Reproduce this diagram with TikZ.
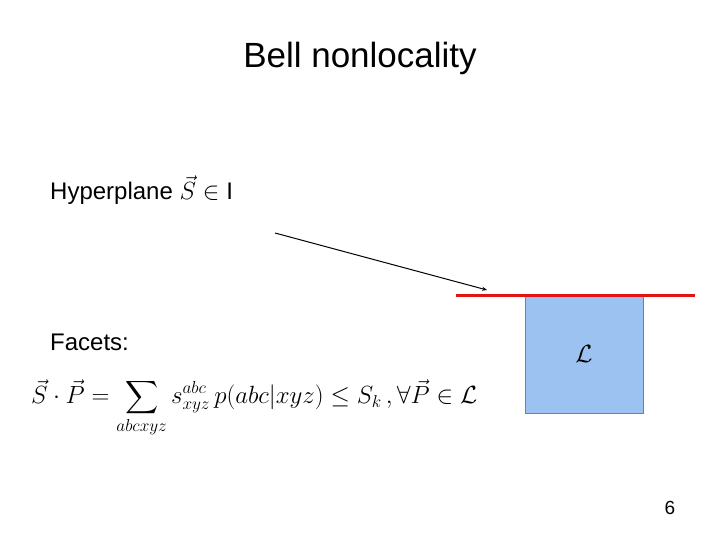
\documentclass[tikz,border=0pt]{standalone}
\usepackage{amsmath,amssymb}
\usepackage{fontspec}
\setmainfont{Liberation Sans}
\usetikzlibrary{arrows.meta}
\definecolor{boxblue}{RGB}{155,194,240}
\definecolor{hred}{RGB}{225,20,20}
\tikzset{lbl/.style={anchor=west,inner sep=0pt,font=\fontsize{24}{28}\selectfont}}
\begin{document}
\begin{tikzpicture}[x=1pt,y=-1pt]
\useasboundingbox (0,0) rectangle (720,540);
\node (title) at (360,58) {\fontsize{35}{40}\selectfont Bell nonlocality};
\node[lbl] (hyp) at (50,190) {Hyperplane $\vec{S}\in\mathrm{I}$};
\node[lbl] (fac) at (50,342) {Facets:};
\node[anchor=west,inner sep=0pt,font=\fontsize{23}{28}\selectfont] (eq) at (31,408) {$\vec{S}\cdot\vec{P}=\displaystyle\sum_{abcxyz} s^{abc}_{xyz}\,p(abc|xyz)\le S_k\,,\forall\vec{P}\in\mathcal{L}$};
\node[draw=gray,fill=boxblue,minimum width=118pt,minimum height=118pt,inner sep=0pt] (L) at (584,354) {\fontsize{36}{40}\selectfont$\mathcal{L}$};
\coordinate (r1) at (456,295);
\coordinate (r2) at (695,295);
\draw[hred,line width=3pt] (r1) -- (r2);
\coordinate (a1) at (275,233);
\coordinate (a2) at (487,290);
\draw[-{Stealth[length=5pt,width=4pt]},line width=1pt] (a1) -- (a2);
\node (num) at (670,508) {\fontsize{19}{22}\selectfont 6};
\end{tikzpicture}
\end{document}
